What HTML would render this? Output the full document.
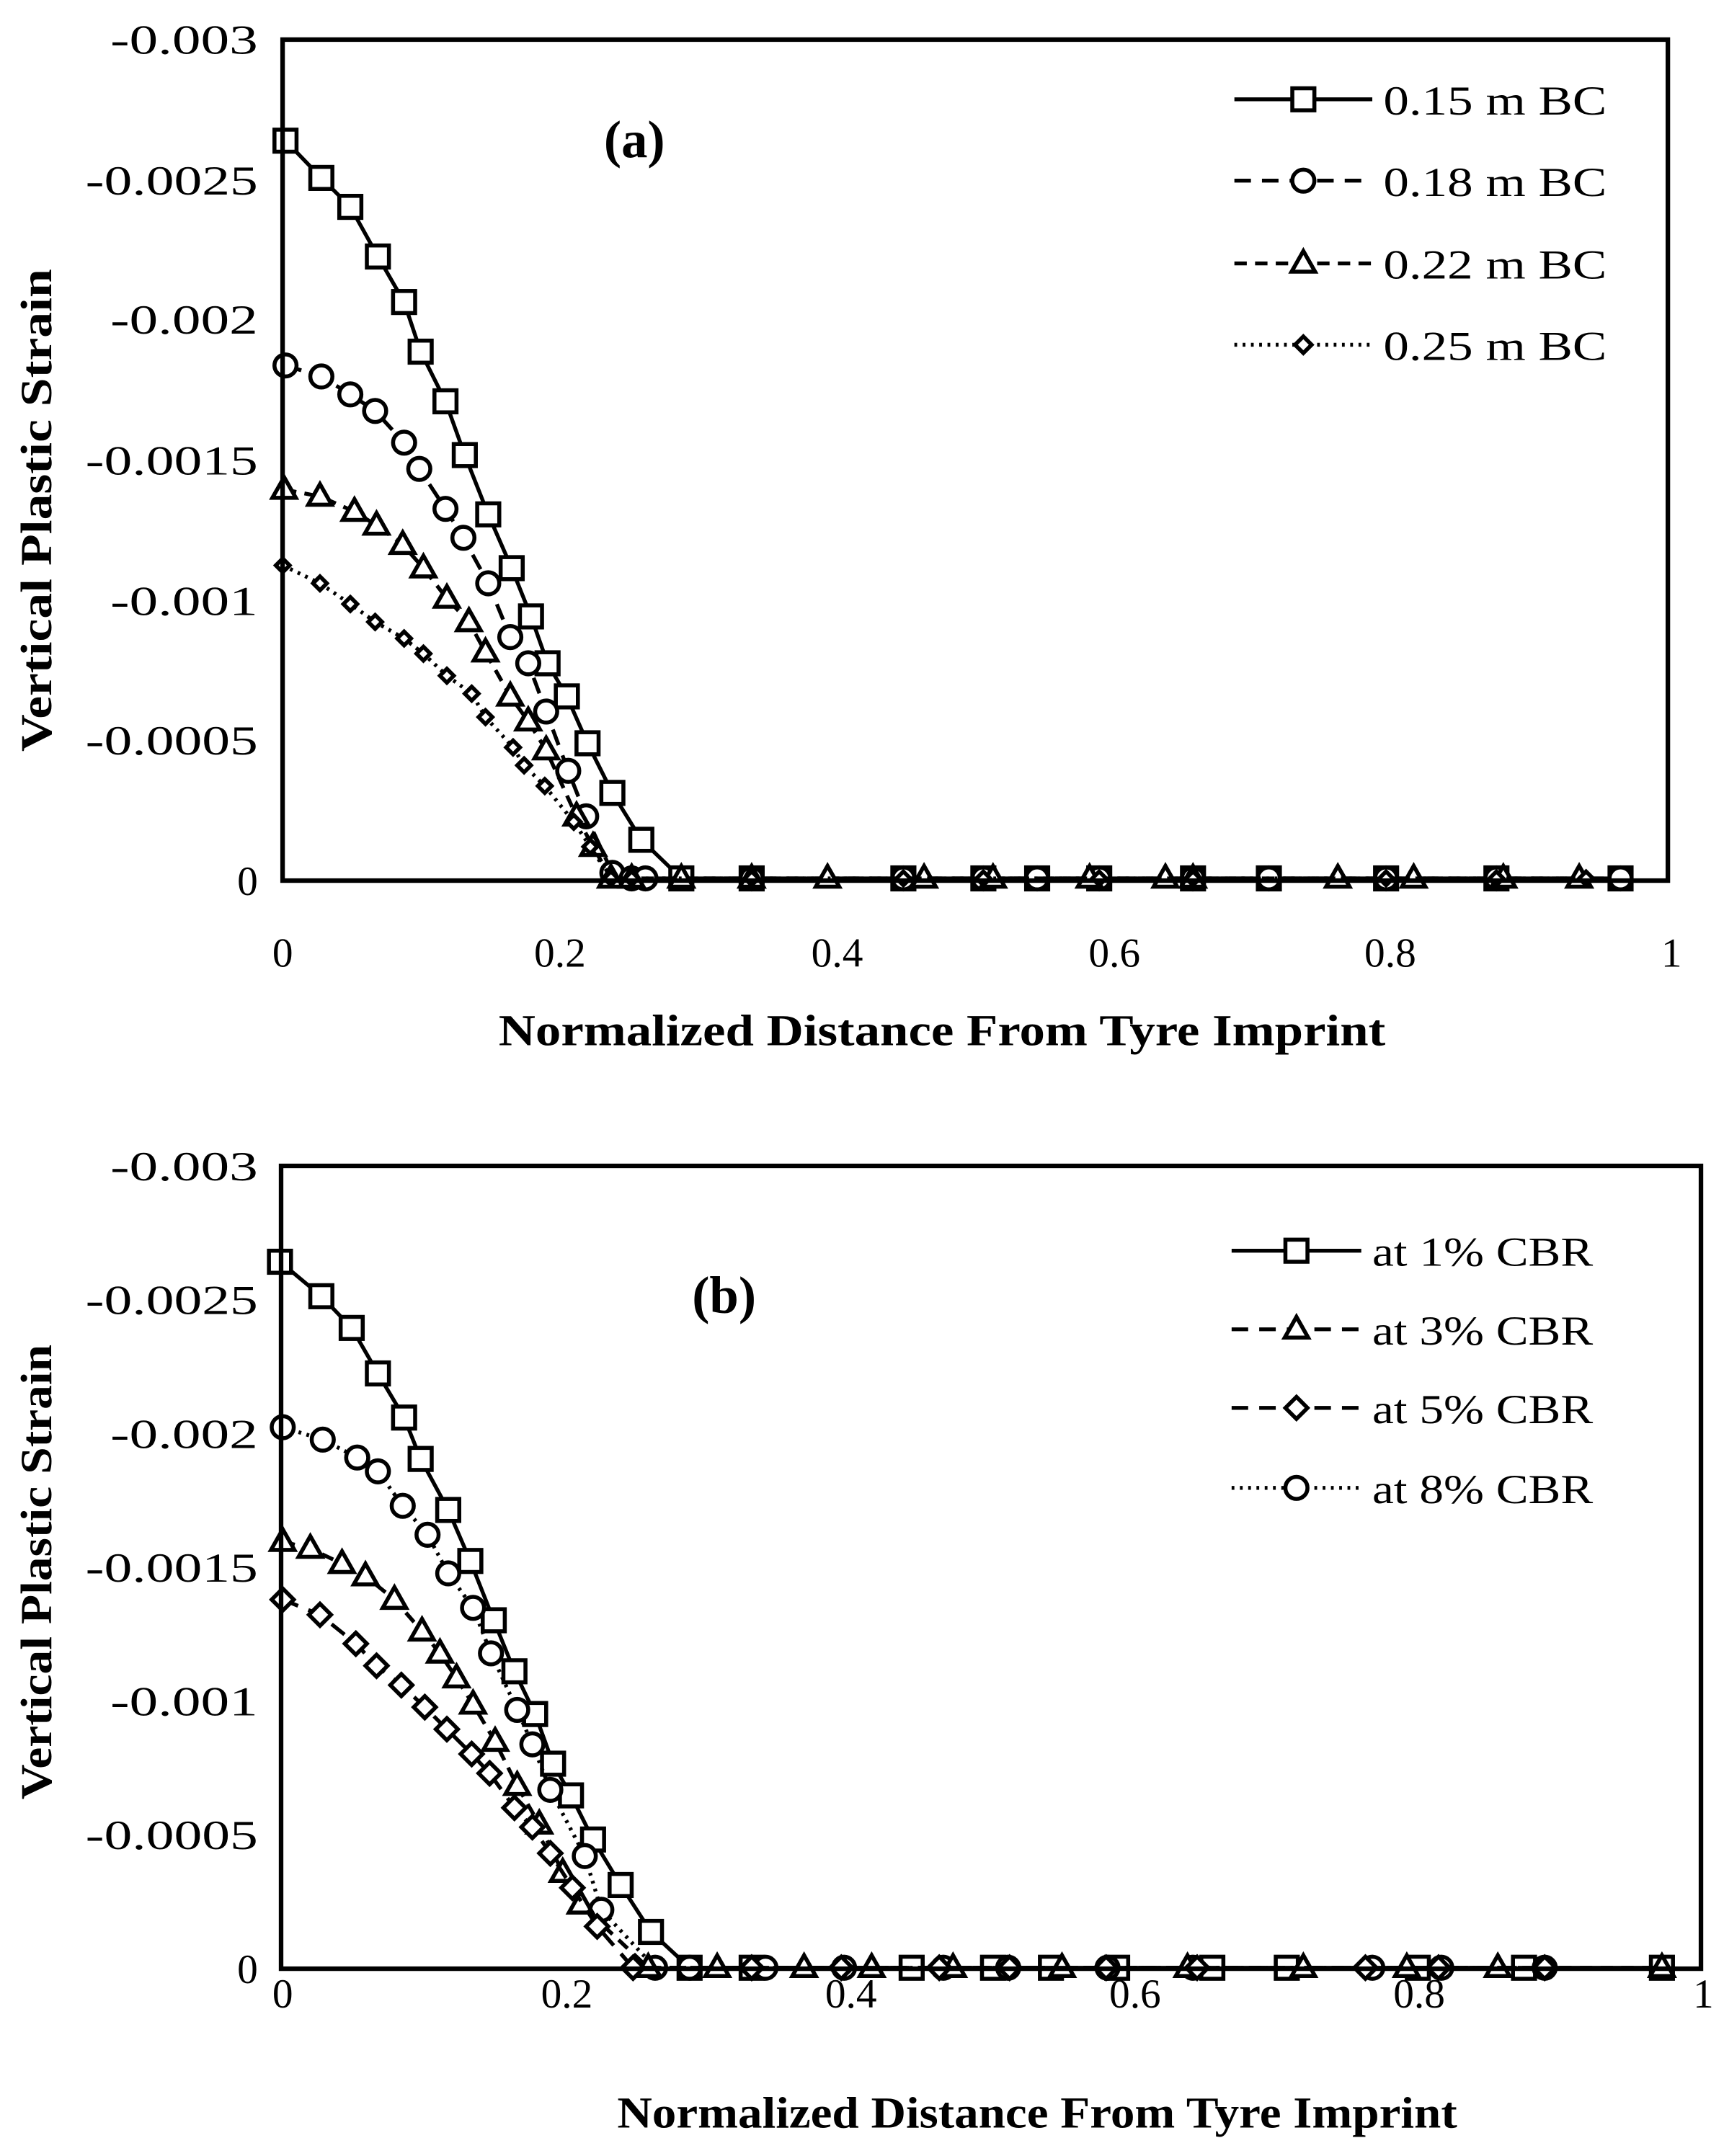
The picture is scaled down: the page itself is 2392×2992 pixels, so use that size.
<!DOCTYPE html>
<html><head><meta charset="utf-8"><style>
html,body{margin:0;padding:0;background:#fff}
svg{display:block}
text{font-family:"Liberation Serif",serif;fill:#000}
.t{font-size:30px}
.b{font-weight:bold}
</style></head><body>
<svg id="s" xmlns="http://www.w3.org/2000/svg" width="2392" height="2992" viewBox="0 0 1250 1563.5">
<rect x="0" y="0" width="1250" height="1563.5" fill="#fff"/>
<g id="data"></g>
<rect x="204.9" y="28.7" width="1004.4" height="609.9" fill="none" stroke="#000" stroke-width="3.3"/>
<rect x="203.8" y="845.5" width="1029.5" height="582.2" fill="none" stroke="#000" stroke-width="3.3"/>
<g class="t" text-anchor="end">
<text x="187" y="39" textLength="107" lengthAdjust="spacingAndGlyphs">-0.003</text>
<text x="187" y="141" textLength="125" lengthAdjust="spacingAndGlyphs">-0.0025</text>
<text x="187" y="242" textLength="107" lengthAdjust="spacingAndGlyphs">-0.002</text>
<text x="187" y="344" textLength="125" lengthAdjust="spacingAndGlyphs">-0.0015</text>
<text x="187" y="446" textLength="107" lengthAdjust="spacingAndGlyphs">-0.001</text>
<text x="187" y="547" textLength="125" lengthAdjust="spacingAndGlyphs">-0.0005</text>
<text x="187" y="649">0</text>
<text x="187" y="856" textLength="107" lengthAdjust="spacingAndGlyphs">-0.003</text>
<text x="187" y="953" textLength="125" lengthAdjust="spacingAndGlyphs">-0.0025</text>
<text x="187" y="1050" textLength="107" lengthAdjust="spacingAndGlyphs">-0.002</text>
<text x="187" y="1147" textLength="125" lengthAdjust="spacingAndGlyphs">-0.0015</text>
<text x="187" y="1244" textLength="107" lengthAdjust="spacingAndGlyphs">-0.001</text>
<text x="187" y="1341" textLength="125" lengthAdjust="spacingAndGlyphs">-0.0005</text>
<text x="187" y="1438">0</text>
</g>
<g class="t" text-anchor="middle">
<text x="205" y="701">0</text><text x="406" y="701">0.2</text><text x="607" y="701">0.4</text><text x="808" y="701">0.6</text><text x="1008" y="701">0.8</text><text x="1212" y="701">1</text>
<text x="205" y="1456">0</text><text x="411" y="1456">0.2</text><text x="617" y="1456">0.4</text><text x="823" y="1456">0.6</text><text x="1029" y="1456">0.8</text><text x="1235" y="1456">1</text>
</g>
<text class="b" x="683" y="758" font-size="32" text-anchor="middle" textLength="643" lengthAdjust="spacingAndGlyphs">Normalized Distance From Tyre Imprint</text>
<text class="b" x="752" y="1543" font-size="32" text-anchor="middle" textLength="609" lengthAdjust="spacingAndGlyphs">Normalized Distance From Tyre Imprint</text>
<text class="b" font-size="32" text-anchor="middle" textLength="350" lengthAdjust="spacingAndGlyphs" transform="translate(37,370) rotate(-90)">Vertical Plastic Strain</text>
<text class="b" font-size="32" text-anchor="middle" textLength="330" lengthAdjust="spacingAndGlyphs" transform="translate(37,1140) rotate(-90)">Vertical Plastic Strain</text>
<text class="b" x="460" y="114" font-size="38" text-anchor="middle">(a)</text>
<text class="b" x="525" y="952" font-size="38" text-anchor="middle">(b)</text>
<g class="t" font-size="33">
<text x="1003" y="83" textLength="162" lengthAdjust="spacingAndGlyphs">0.15 m BC</text>
<text x="1003" y="142" textLength="162" lengthAdjust="spacingAndGlyphs">0.18 m BC</text>
<text x="1003" y="202" textLength="162" lengthAdjust="spacingAndGlyphs">0.22 m BC</text>
<text x="1003" y="261" textLength="162" lengthAdjust="spacingAndGlyphs">0.25 m BC</text>
<text x="995" y="918" textLength="160" lengthAdjust="spacingAndGlyphs">at 1% CBR</text>
<text x="995" y="975" textLength="160" lengthAdjust="spacingAndGlyphs">at 3% CBR</text>
<text x="995" y="1032" textLength="160" lengthAdjust="spacingAndGlyphs">at 5% CBR</text>
<text x="995" y="1090" textLength="160" lengthAdjust="spacingAndGlyphs">at 8% CBR</text>
</g>
</svg>
<script>
var NS="http://www.w3.org/2000/svg",g=document.getElementById("data");
function el(n,a){var e=document.createElementNS(NS,n);for(var k in a)e.setAttribute(k,a[k]);g.appendChild(e);return e;}
var dash={solid:"",dash:"9,6",ldash:"12,8",dot:"2,4"};
function marker(t,x,y,sz){var st={fill:"#fff",stroke:"#000","stroke-width":2.9};
 if(t=="s"){el("rect",Object.assign({x:x-8,y:y-8,width:16,height:16},st));}
 else if(t=="c"){el("circle",Object.assign({cx:x,cy:y,r:8},st));}
 else if(t=="t"){el("polygon",Object.assign({points:(x)+","+(y-9)+" "+(x+8.5)+","+(y+6)+" "+(x-8.5)+","+(y+6)},st));}
 else if(t=="d"){var h=sz||6;el("polygon",Object.assign({points:x+","+(y-h)+" "+(x+h)+","+y+" "+x+","+(y+h)+" "+(x-h)+","+y},st));}}
function series(pts,zx,zy,t,ls,sz){var all=pts.slice();zx.forEach(function(x){all.push([x,zy]);});
 all.sort(function(a,b){return a[0]-b[0]});
 el("polyline",{points:all.map(function(p){return p.join(",")}).join(" "),fill:"none",stroke:"#000","stroke-width":2.8,"stroke-dasharray":dash[ls]});
 all.forEach(function(p){marker(t,p[0],p[1],sz);});}
var Z=637;
series([[207,102],[233,129],[254,150],[274,186],[293,219],[305,255],[323,291],[337,330],[354,373],[371,412],[385,447],[397,481],[411,505],[426,539],[444,575],[465,609]],[494,545,655,713,752,797,865,920,1005,1085,1175],Z,"s","solid");
series([[207,265],[233,273],[254,286],[272,298],[293,321],[304,340],[323,369],[336,390],[354,423],[370,462],[383,481],[396,516],[412,559],[425,592],[444,633]],[458,468,545,655,713,752,797,865,920,1005,1085,1175],Z,"c","ldash");
series([[206,355],[232,360],[257,371],[273,381],[292,395],[307,412],[324,434],[340,451],[352,473],[370,505],[383,523],[396,544],[418,592],[430,614]],[443,458,494,545,600,670,720,790,845,865,970,1025,1090,1145],Z,"t","dash");
series([[205,410],[232,423],[254,438],[272,451],[293,463],[307,474],[324,490],[342,503],[352,520],[372,542],[380,555],[395,570],[416,596],[428,614]],[443,458,545,655,713,797,865,1005,1085,1150],Z,"d","dot",5);
var Z2=1427;
series([[203,915],[233,940],[255,963],[274,996],[293,1028],[305,1058],[325,1095],[341,1132],[358,1175],[373,1212],[388,1243],[401,1279],[414,1302],[430,1334],[450,1367],[472,1401]],[500,545,661,720,762,810,879,933,1028,1105,1205],Z2,"s","solid");
series([[205,1035],[234,1044],[259,1057],[274,1067],[292,1092],[310,1113],[325,1141],[343,1166],[356,1199],[375,1240],[386,1265],[399,1298],[424,1346],[436,1385]],[475,500,555,612,684,731,803,865,995,1045,1120],Z2,"c","dot");
series([[205,1118],[225,1123],[248,1134],[265,1143],[286,1160],[306,1183],[319,1199],[331,1217],[343,1236],[359,1263],[375,1295],[391,1323],[408,1358],[421,1381]],[470,520,583,632,691,770,861,945,1020,1086,1205],Z2,"t","dash");
series([[205,1160],[232,1171],[258,1192],[273,1208],[291,1222],[308,1238],[324,1254],[342,1272],[355,1286],[373,1311],[386,1325],[399,1344],[415,1369],[433,1397]],[459,545,610,681,732,802,868,990,1043,1120],Z2,"d","ldash",8);
function leg(x1,x2,y,t,ls,sz){el("line",{x1:x1,y1:y,x2:x2,y2:y,stroke:"#000","stroke-width":2.8,"stroke-dasharray":dash[ls]});marker(t,(x1+x2)/2,y,sz);}
leg(895,995,72,"s","solid");leg(895,995,131,"c","ldash");leg(895,995,191,"t","dash");leg(895,995,250,"d","dot",6);
leg(893,987,907,"s","solid");leg(893,987,964,"t","ldash");leg(893,987,1021,"d","ldash",8);leg(893,987,1079,"c","dot");
</script>
</body></html>
